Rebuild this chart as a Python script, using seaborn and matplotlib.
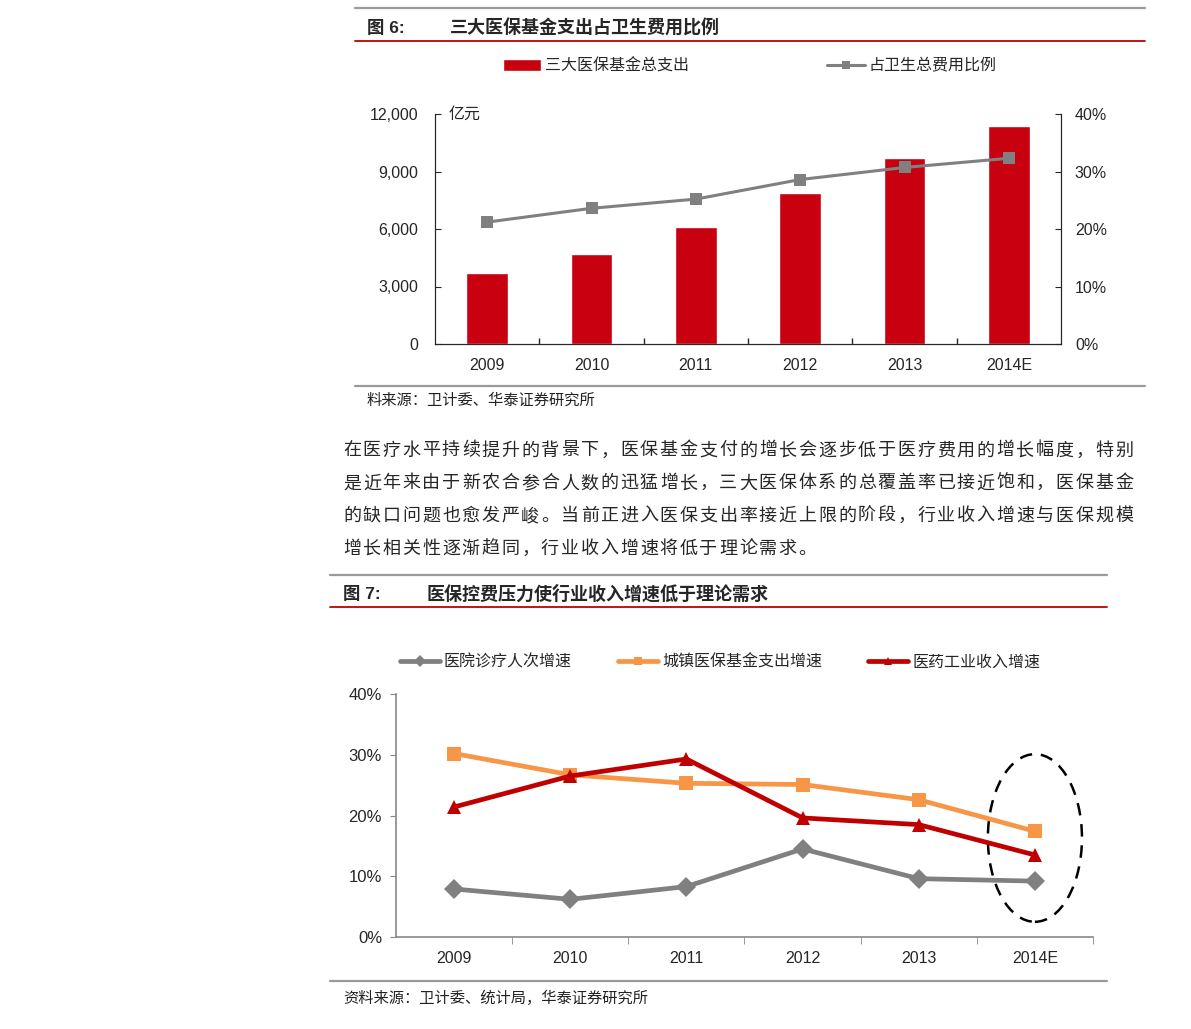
import numpy as np
import pandas as pd
import matplotlib
matplotlib.use("Agg")
import matplotlib.pyplot as plt
import seaborn as sns
from matplotlib.lines import Line2D
from matplotlib.patches import Patch, Ellipse
from matplotlib.ticker import FuncFormatter

years = ["2009", "2010", "2011", "2012", "2013", "2014E"]

# fig 6: fund spending (100M yuan) and share of total health spending (%)
fund_spend = [3700, 4700, 6100, 7900, 9700, 11350]
share_pct = [21.2, 23.6, 25.2, 28.6, 30.7, 32.3]

# fig 7: growth rates (%)
visit_growth = [7.9, 6.2, 8.3, 14.5, 9.6, 9.2]
urban_fund_growth = [30.2, 26.7, 25.3, 25.1, 22.6, 17.4]
pharma_growth = [21.4, 26.5, 29.3, 19.6, 18.5, 13.5]

series_names = ["医院诊疗人次增速", "城镇医保基金支出增速", "医药工业收入增速"]

paragraph = [
    "在医疗水平持续提升的背景下，医保基金支付的增长会逐步低于医疗费用的增长幅度，特别",
    "是近年来由于新农合参合人数的迅猛增长，三大医保体系的总覆盖率已接近饱和，医保基金",
    "的缺口问题也愈发严峻。当前正进入医保支出率接近上限的阶段，行业收入增速与医保规模",
    "增长相关性逐渐趋同，行业收入增速将低于理论需求。",
]

bar_red = "#C8000F"
line_red = "#C00000"
gray = "#808080"
orange = "#F79646"

sns.set_style("ticks")
plt.rcParams["font.family"] = ["Liberation Sans", "Noto Sans CJK SC"]

W, H = 1191, 1029
fig = plt.figure(figsize=(W / 100, H / 100), dpi=100)


def px(x):
    return x / W


def py(y):
    return 1 - y / H


def rule(x0, x1, y, color, lw):
    fig.add_artist(Line2D([px(x0), px(x1)], [py(y), py(y)], color=color, lw=lw,
                          transform=fig.transFigure))


# ---------- figure 6 header ----------
rule(355, 1145, 8, "#9a9a9a", 1.6)
fig.text(px(367), py(28), "图 6:", fontsize=12.5, weight="bold", va="center")
fig.text(px(450), py(28), "三大医保基金支出占卫生费用比例", fontsize=13, weight="bold", va="center")
rule(355, 1145, 41, line_red, 1.3)

ax1 = fig.add_axes([px(435), py(344), px(1061) - px(435), py(114) - py(344)])
sns.barplot(x=years, y=fund_spend, order=years, color=bar_red, saturation=1,
            width=0.4, ax=ax1)
ax1.set_xlim(-0.5, 5.5)
ax1.set_ylim(0, 12000)
ax1.set_yticks([0, 3000, 6000, 9000, 12000])
ax1.yaxis.set_major_formatter(FuncFormatter(lambda v, p: f"{v:,.0f}"))
ax1.set_xticks(range(len(years)))
ax1.set_xticklabels(years)
ax1.set_xticks(np.arange(0.5, len(years) - 0.5, 1), minor=True)
ax1.tick_params(axis="x", which="major", length=0, pad=10, labelsize=11.5)
ax1.tick_params(axis="x", which="minor", length=4, direction="in", width=1)
ax1.tick_params(axis="y", direction="in", length=4, pad=12, labelsize=11.5)
ax1.spines["top"].set_visible(False)
ax1.set_xlabel("")
ax1.set_ylabel("")
ax1.text(0.021, 1.0, "亿元", transform=ax1.transAxes, fontsize=11.5, va="center")

ax1b = ax1.twinx()
sns.lineplot(x=np.arange(len(years)), y=share_pct, color=gray, lw=2.2,
             marker="s", markersize=8, markeredgewidth=0, ax=ax1b)
ax1b.set_xlim(-0.5, 5.5)
ax1b.set_ylim(0, 40)
ax1b.set_yticks([0, 10, 20, 30, 40])
ax1b.yaxis.set_major_formatter(FuncFormatter(lambda v, p: f"{v:.0f}%"))
ax1b.tick_params(axis="y", direction="in", length=4, pad=10, labelsize=11.5)
ax1b.spines["top"].set_visible(False)

fig.legend(handles=[Patch(facecolor=bar_red),
                    Line2D([], [], color=gray, lw=2.2, marker="s", ms=6, mew=0)],
           labels=["三大医保基金总支出", "占卫生总费用比例"],
           loc="center left", bbox_to_anchor=(px(503), py(66)), ncol=2,
           frameon=False, borderpad=0, borderaxespad=0, handlelength=2.4,
           handletextpad=0.25, columnspacing=8.6, fontsize=11.5)

rule(355, 1145, 386, "#9a9a9a", 1.6)
fig.text(px(367), py(401), "料来源：卫计委、华泰证券研究所", fontsize=11, va="center", color="#222222")

# ---------- paragraph ----------
step = 19.8
for i, line in enumerate(paragraph):
    yy = 451 + i * 32.7
    for j, ch in enumerate(line):
        fig.text(px(343 + j * step), py(yy), ch, fontsize=13, va="center")

# ---------- figure 7 ----------
rule(330, 1107, 575, "#9a9a9a", 1.6)
fig.text(px(343), py(594), "图 7:", fontsize=12.5, weight="bold", va="center")
fig.text(px(427), py(594), "医保控费压力使行业收入增速低于理论需求", fontsize=13, weight="bold", va="center")
rule(330, 1107, 607, line_red, 1.3)

df2 = pd.DataFrame({
    "pos": list(np.arange(len(years))) * 3,
    "value": visit_growth + urban_fund_growth + pharma_growth,
    "series": [series_names[0]] * len(years) + [series_names[1]] * len(years)
    + [series_names[2]] * len(years),
})
palette = dict(zip(series_names, [gray, orange, line_red]))
markers = dict(zip(series_names, ["D", "s", "^"]))

ax2 = fig.add_axes([px(396), py(937), px(1093) - px(396), py(694) - py(937)])
sns.lineplot(data=df2, x="pos", y="value", hue="series", style="series",
             palette=palette, markers=markers, dashes=False, lw=3.4,
             markersize=10, markeredgewidth=0, legend=False, ax=ax2)
ax2.set_xlim(-0.5, 5.5)
ax2.set_ylim(0, 40)
ax2.set_yticks([0, 10, 20, 30, 40])
ax2.yaxis.set_major_formatter(FuncFormatter(lambda v, p: f"{v:.0f}%"))
ax2.set_xticks(range(len(years)))
ax2.set_xticklabels(years)
ax2.set_xticks(np.arange(0.5, len(years), 1), minor=True)
ax2.tick_params(axis="x", which="major", length=0, pad=10, labelsize=11.5)
ax2.tick_params(axis="x", which="minor", length=5, direction="out", color="#888888")
ax2.tick_params(axis="y", length=4, direction="out", pad=6, labelsize=12, color="#888888")
for s in ["top", "right"]:
    ax2.spines[s].set_visible(False)
for s in ["left", "bottom"]:
    ax2.spines[s].set_color("#888888")
    ax2.spines[s].set_linewidth(1.2)
ax2.set_xlabel("")
ax2.set_ylabel("")
ax2.add_patch(Ellipse((5, 16.3), 0.81, 27.6, fill=False, ls=(0, (5, 3.5)),
                      lw=1.8, ec="black", clip_on=False))

fig.legend(handles=[Line2D([], [], color=c, lw=3.4, marker=m, ms=6, mew=0)
                    for c, m in zip([gray, orange, line_red], ["D", "s", "^"])],
           labels=series_names, loc="center left", bbox_to_anchor=(px(400), py(662)),
           ncol=3, frameon=False, borderpad=0, borderaxespad=0, handlelength=2.5,
           handletextpad=0.25, columnspacing=2.9, fontsize=11.5)

rule(330, 1107, 981, "#9a9a9a", 1.6)
fig.text(px(343), py(998), "资料来源：卫计委、统计局，华泰证券研究所", fontsize=11, va="center", color="#222222")

fig.savefig("out.png", dpi=100)
